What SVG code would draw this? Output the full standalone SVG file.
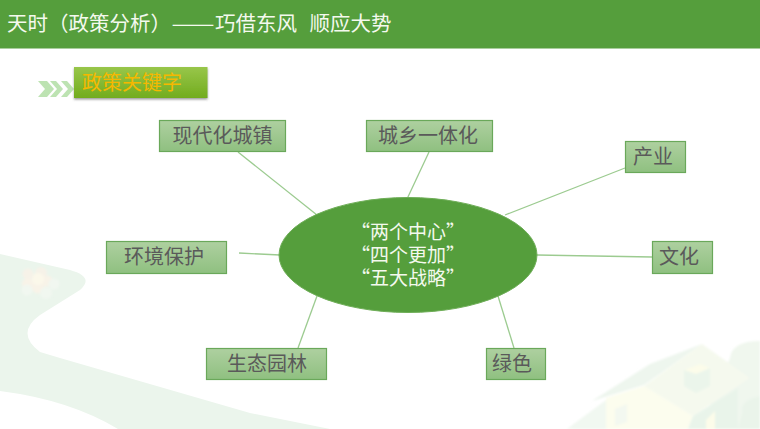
<svg xmlns="http://www.w3.org/2000/svg" width="760" height="429" viewBox="0 0 760 429">
<style>
text{font-family:"Microsoft YaHei","Noto Sans CJK SC",sans-serif}
.n{fill:url(#ng);stroke:#6aa85a;stroke-width:1.2}
.l{font-size:20px;fill:#5a5a5a;text-anchor:middle}
.c{stroke:#9ccb90;stroke-width:1.3;fill:none}
.e{font-size:19px;fill:#f4f9ee;text-anchor:middle}
.h{font-size:20.500px;fill:#f4f9ee}
</style>
<defs>
<linearGradient id="ng" x1="0" y1="0" x2="0" y2="1"><stop offset="0" stop-color="#aed0a0"/><stop offset="1" stop-color="#8fc080"/></linearGradient>
<linearGradient id="tg" x1="0" y1="0" x2="0" y2="1"><stop offset="0" stop-color="#98c64a"/><stop offset="1" stop-color="#72ac1e"/></linearGradient>
<filter id="sh" x="-5%" y="-10%" width="110%" height="125%"><feDropShadow dx="0" dy="1.5" stdDeviation="1" flood-color="#555" flood-opacity=".6"/></filter>
<filter id="bl" x="-10%" y="-10%" width="120%" height="120%"><feGaussianBlur stdDeviation="1"/></filter>
</defs>
<rect width="760" height="429" fill="#fff"/>
<g id="background">
<path d="M0 254 L70 270 Q95 277 80 290 L40 315 Q15 333 40 352 L60 358 L250 413 L330 429 L118 429 Q70 400 0 391 Z" fill="#ebf5ec"/>
<g filter="url(#bl)"><circle cx="28" cy="274" r="5.500" fill="#f6f2e8"/><circle cx="41" cy="273" r="6" fill="#f6f2e8"/><circle cx="47" cy="281" r="5.500" fill="#f8f3e8"/><circle cx="28" cy="284" r="6" fill="#f8f3e8"/><circle cx="38" cy="287" r="6.500" fill="#f8f3e8"/><circle cx="38" cy="279" r="6" fill="#fbf8ea"/><circle cx="54" cy="284" r="5.500" fill="#f1f7f0"/><circle cx="46" cy="293" r="6" fill="#f1f7f0"/><circle cx="27" cy="290" r="5.500" fill="#f1f7f0"/></g>
<g filter="url(#bl)">
<path d="M730 358 Q732 341 760 341 L760 429 L700 429 Z" fill="#f0f7ee"/>
<path d="M567 429 L606 400 L645 386 L660 429 Z" fill="#f1f8f1"/>
<path d="M592 401 L650 364 L702 344 L644 385 Z" fill="#eef6ee"/>
<path d="M606 398 L644 386 L693 416 L688 429 L606 429 Z" fill="#fcfdee"/>
<path d="M702 344 L750 378 L693 416 L644 386 Z" fill="#f5f9ee"/>
<path d="M693 416 L738 388 L738 429 L688 429 Z" fill="#e9f4ea"/>
<path d="M684 370 L700 364 L710 368 L710 386 L696 393 L684 386 Z" fill="#ebf5eb"/>
<path d="M684 370 L700 364 L710 368 L696 374 Z" fill="#fcfcea"/>
<path d="M615 409 L627 404 L627 422 L615 426 Z" fill="#f3f8f0"/>
<path d="M706 420 L715 411 L715 429 L706 429 Z" fill="#fcfcea"/>
<path d="M760 396 Q740 400 742 412 L738 429 L760 429 Z" fill="#eaf4ea"/>
</g>
</g>
<g id="header">
<rect x="0" y="0" width="760" height="48.500" fill="#559e3c"/>
<text class="h" y="31"><tspan x="7">天时（政策分析）</tspan><tspan x="171.500" textLength="43" lengthAdjust="spacingAndGlyphs">——</tspan><tspan x="215">巧借东风</tspan><tspan x="309.500">顺应大势</tspan></text>
</g>
<g id="title-tag">
<path d="M38 81 H47 L54 89 L47 97 H38 L45 89 Z M50 81 H56 L63 89 L56 97 H50 L57 89 Z M61 81 H67 L74 89 L67 97 H61 L68 89 Z" fill="#bde3b2"/>
<rect x="74" y="67" width="133.500" height="31" fill="url(#tg)" filter="url(#sh)"/>
<text x="82" y="90" font-size="20" fill="#f5b800">政策关键字</text>
</g>
<g id="connectors">
<line class="c" x1="238" y1="152" x2="317" y2="215"/>
<line class="c" x1="429" y1="152" x2="407" y2="199"/>
<line class="c" x1="625" y1="168" x2="505" y2="215"/>
<line class="c" x1="652" y1="257" x2="537" y2="255"/>
<line class="c" x1="239" y1="253" x2="280" y2="255"/>
<line class="c" x1="298" y1="348" x2="317" y2="296"/>
<line class="c" x1="514" y1="348" x2="498" y2="296"/>
</g>
<g id="center"><ellipse cx="408" cy="255" rx="129" ry="57.500" fill="#559e3c" stroke="#6fae58" stroke-width="1"/>
<text class="e"><tspan x="408" y="239">“两个中心”</tspan><tspan x="408" y="262">“四个更加”</tspan><tspan x="408" y="285">“五大战略”</tspan></text></g>
<g id="n1"><rect class="n" x="159.500" y="120.500" width="126" height="31"/><text class="l" x="222.500" y="143">现代化城镇</text></g>
<g id="n2"><rect class="n" x="366.500" y="120.500" width="126" height="31"/><text class="l" x="428" y="143">城乡一体化</text></g>
<g id="n3"><rect class="n" x="625.500" y="141.500" width="60" height="31"/><text class="l" x="653" y="163.500">产业</text></g>
<g id="n4"><rect class="n" x="652.500" y="241.500" width="60" height="32"/><text class="l" x="679" y="264">文化</text></g>
<g id="n5"><rect class="n" x="106.500" y="241.500" width="120" height="32"/><text class="l" x="164" y="264">环境保护</text></g>
<g id="n6"><rect class="n" x="206.500" y="348.500" width="120" height="31"/><text class="l" x="267" y="371">生态园林</text></g>
<g id="n7"><rect class="n" x="486.500" y="348.500" width="59" height="31"/><text class="l" x="512" y="371">绿色</text></g>
</svg>
